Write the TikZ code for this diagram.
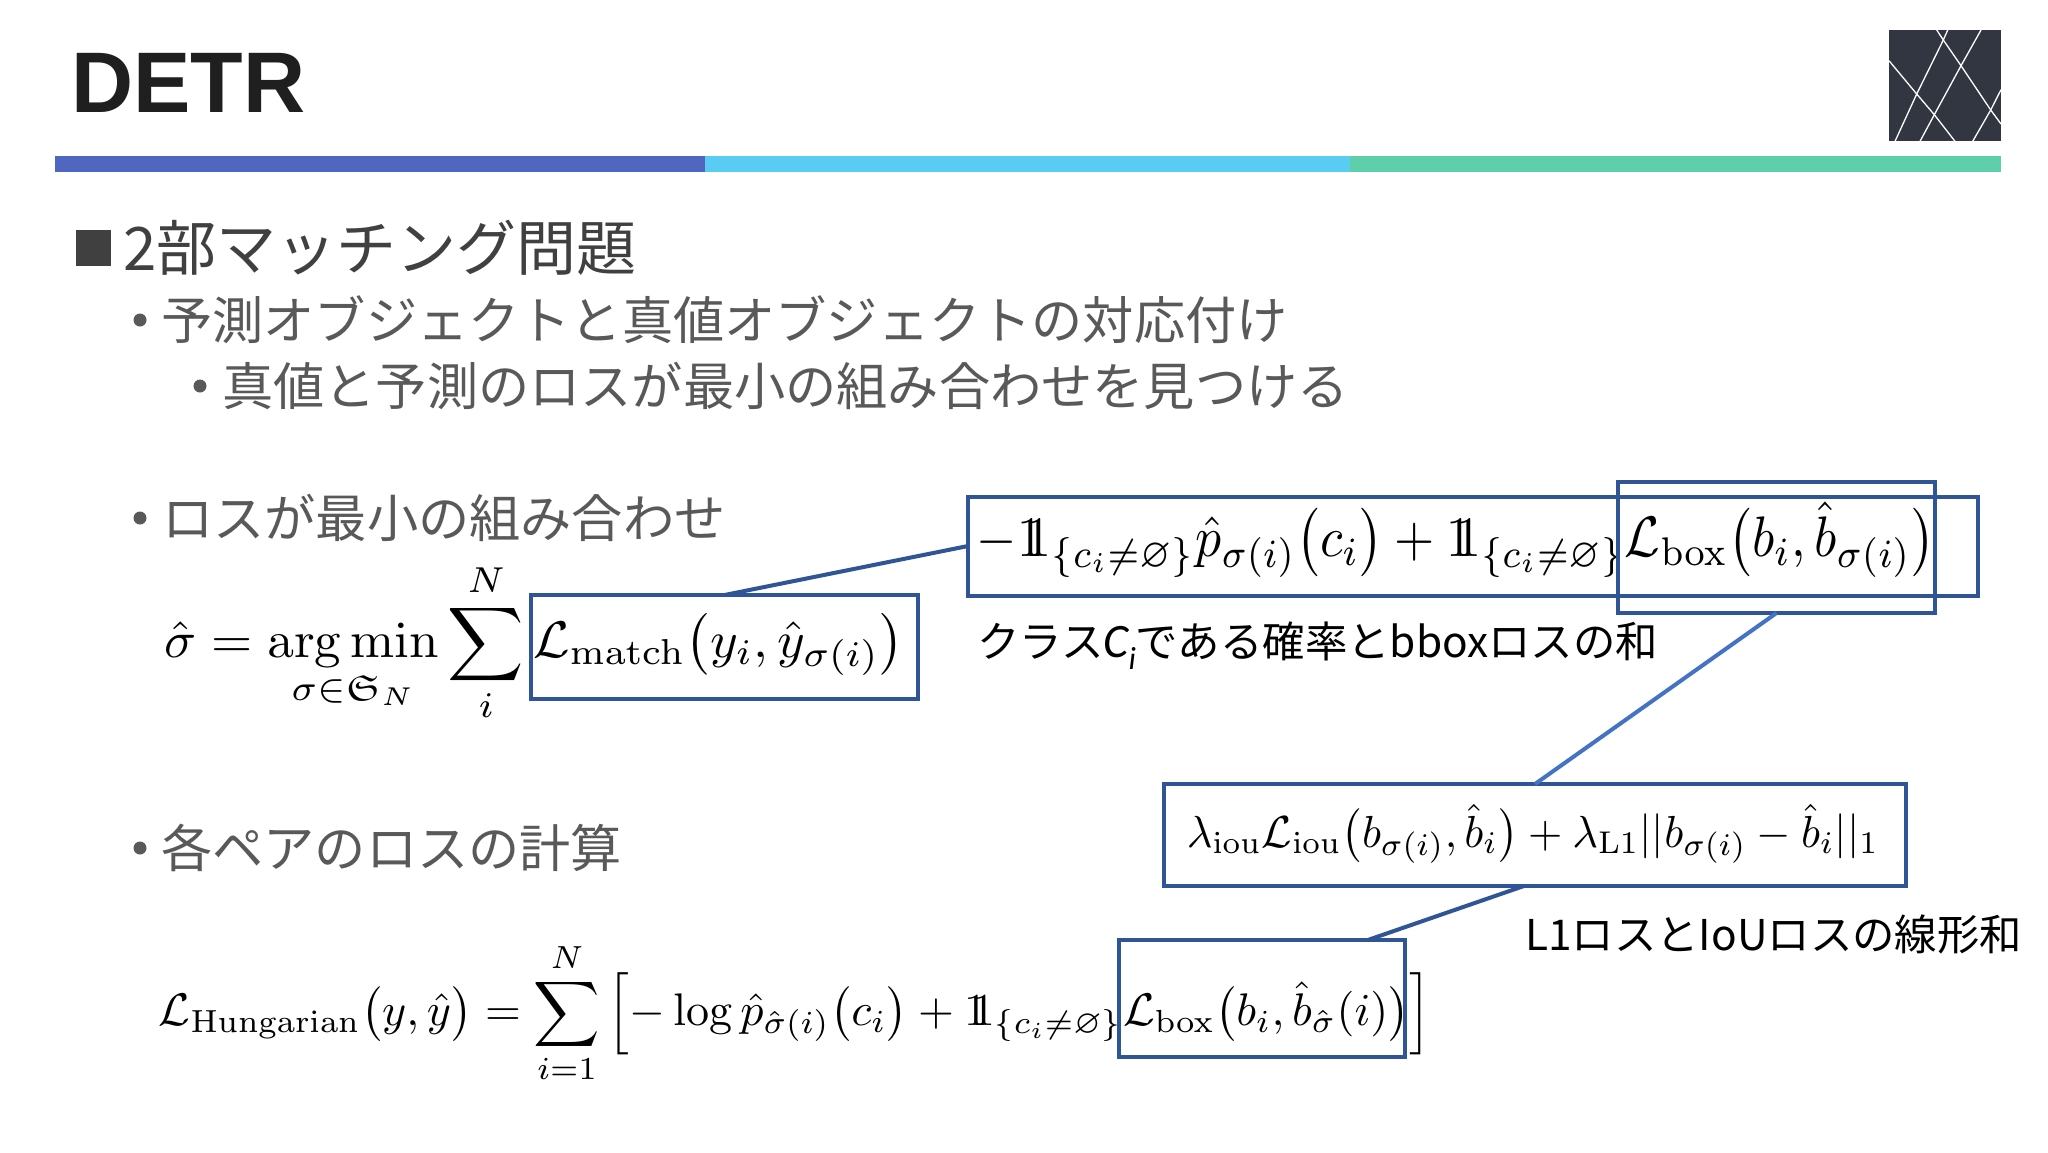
\documentclass[tikz,border=0pt]{standalone}
\usepackage{amsmath,amssymb}
\usepackage{graphicx}
\usepackage[no-math]{fontspec}
\usetikzlibrary{calc}
\setmainfont{Liberation Sans}
\newfontfamily\jp{Noto Sans CJK JP}
\newfontfamily\cali{Carlito}
\DeclareMathOperator*{\argminop}{arg\,min}
\newcommand{\one}{\mathrm{1\mkern-6mu1}}
\newcommand{\Lc}{\mathcal{L}}
\newcommand{\fitmath}[3]{\resizebox*{#1pt}{#2pt}{$\displaystyle #3$}}
\definecolor{boxblue}{HTML}{2F5597}
\definecolor{linkblue}{HTML}{4472C4}
\definecolor{txtgray}{HTML}{595959}
\definecolor{logodark}{HTML}{323640}
\definecolor{barA}{HTML}{5067C1}
\definecolor{barB}{HTML}{5ACBF3}
\definecolor{barC}{HTML}{5FCFAB}
\definecolor{headgray}{HTML}{404040}
\tikzset{
 x=1pt,y=-1pt,
 framebox/.style={draw=boxblue,line width=4pt,fill=none,inner sep=0pt,outer sep=0pt,anchor=north west},
 link/.style={draw=boxblue,line width=4pt},
 lightlink/.style={draw=linkblue,line width=4pt},
 bullet/.style={circle,fill=txtgray,inner sep=0pt,minimum size=13pt},
 lv/.style={anchor=west,inner sep=0pt,text=txtgray,font=\jp\fontsize{51.2}{51.2}\selectfont},
 note/.style={anchor=west,inner sep=0pt,text=black,font=\jp\fontsize{42.4}{42.4}\selectfont},
 formula/.style={anchor=center,inner sep=0pt,text=black},
 logoline/.style={draw=white,line width=1.3pt},
}
\begin{document}
\begin{tikzpicture}
\useasboundingbox (0,0) rectangle (2048,1152);
\fill[white] (0,0) rectangle (2048,1152);
% header
\node[anchor=west,inner sep=0pt,text=black!88,font=\bfseries\fontsize{86}{86}\selectfont] (title) at (71,83) {DETR};
\fill[barA] (55,156) rectangle (705,172);
\fill[barB] (705,156) rectangle (1350,172);
\fill[barC] (1350,156) rectangle (2001,172);
% logo
\fill[logodark] (1889,30) rectangle (2001,141);
\begin{scope}
\clip (1889,30) rectangle (2001,141);
\draw[logoline] (1936.7,30) -- (1943.3,40) -- (1961,65.7) -- (1990.7,110) -- (2001,124);
\draw[logoline] (1947.7,30) -- (1943.3,40) -- (1916.7,94) -- (1895,141.3);
\draw[logoline] (1981,30) -- (1961,65.7) -- (1934.3,114.7) -- (1920,141.3);
\draw[logoline] (1889,60.7) -- (1916.7,94) -- (1934.3,114.7) -- (1955,141.3);
\draw[logoline] (2001,89.7) -- (1990.7,110) -- (1972.7,141.3);
\end{scope}
% text
\node[fill=headgray,inner sep=0pt,minimum width=35pt,minimum height=36pt] (sq) at (93.5,248) {};
\node[anchor=west,inner sep=0pt,text=headgray,font=\jp\fontsize{60}{60}\selectfont] (head) at (123,248) {2部マッチング問題};
\node[bullet] (b1) at (140,320) {};
\node[lv] (t1) at (161,320) {予測オブジェクトと真値オブジェクトの対応付け};
\node[bullet] (b2) at (200,386) {};
\node[lv] (t2) at (222,386) {真値と予測のロスが最小の組み合わせを見つける};
\node[bullet] (b3) at (140,518) {};
\node[lv] (t3) at (162,518) {ロスが最小の組み合わせ};
\node[bullet] (b4) at (140,848) {};
\node[lv] (t4) at (161,848) {各ペアのロスの計算};
% formulas
\node[formula] (f1) at (534.5,643) {\fitmath{739}{160}{\hat\sigma = \argminop_{\sigma\in\mathfrak{S}_N} \sum_{i}^{N} \Lc_{\mathrm{match}}\bigl(y_i,\hat y_{\sigma(i)}\bigr)}};
\node[formula] (f2) at (1456,539.5) {\fitmath{958}{75}{-\one_{\{c_i\neq\varnothing\}}\hat p_{\sigma(i)}\bigl(c_i\bigr)+\one_{\{c_i\neq\varnothing\}}\Lc_{\mathrm{box}}\bigl(b_i,\hat b_{\sigma(i)}\bigr)}};
\node[formula] (f3) at (1533,833.5) {\fitmath{692}{59}{\lambda_{\mathrm{iou}}\Lc_{\mathrm{iou}}\bigl(b_{\sigma(i)},\hat b_i\bigr)+\lambda_{\mathrm{L1}}||b_{\sigma(i)}-\hat b_i||_1}};
\node[formula] (f4) at (795,1013) {\fitmath{1272}{142}{\Lc_{\mathrm{Hungarian}}\bigl(y,\hat y\bigr)=\sum_{i=1}^{N}\,\Bigl[-\log\hat p_{\hat\sigma(i)}\bigl(c_i\bigr)+\one_{\{c_i\neq\varnothing\}}\Lc_{\mathrm{box}}\bigl(b_i,\hat b_{\hat\sigma}(i)\bigr)\Bigr]}};
% notes
\node[note] (n1) at (977,646) {クラス{\cali\itshape\fontsize{48}{48}\selectfont C\raisebox{-0.25em}{\fontsize{32}{32}\selectfont i}}である確率とbboxロスの和};
\node[note] (n2) at (1525,934) {L1ロスとIoUロスの線形和};
% boxes
\node[framebox,minimum width=1010pt,minimum height=99pt] (boxtop) at (968,496.5) {};
\node[framebox,minimum width=317pt,minimum height=131pt] (boxsmall) at (1618,482) {};
\node[framebox,minimum width=387pt,minimum height=104pt] (boxmatch) at (531,595) {};
\node[framebox,minimum width=742pt,minimum height=102pt] (boxiou) at (1164,784) {};
\node[framebox,minimum width=286pt,minimum height=117pt] (boxbottom) at (1119,940) {};
% connectors
\draw[link] (boxmatch.north) -- (boxtop.west);
\draw[lightlink] (boxsmall.south) -- (boxiou.north);
\draw[link] ($(boxiou.south west)!0.485!(boxiou.south east)$) -- ($(boxbottom.north west)!0.87!(boxbottom.north east)$);
\end{tikzpicture}
\end{document}
